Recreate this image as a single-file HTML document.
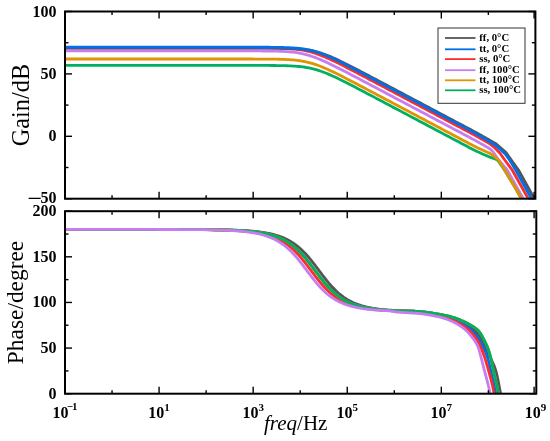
<!DOCTYPE html>
<html><head><meta charset="utf-8"><style>
html,body{margin:0;padding:0;background:#fff;}
body{width:550px;height:441px;overflow:hidden;}
svg{display:block;}
.ser{font-family:"Liberation Serif",serif;}
</style></head><body>
<svg width="550" height="441" viewBox="0 0 550 441">
<defs><clipPath id="cg"><rect x="65.00" y="11.50" width="470.40" height="187.20"/></clipPath>
<clipPath id="cp"><rect x="65.00" y="211.20" width="470.40" height="182.50"/></clipPath></defs>
<rect width="550" height="441" fill="#fff"/>
<g clip-path="url(#cg)" fill="none" stroke-width="2.80" stroke-linejoin="round" stroke-linecap="round">
<polyline stroke="#ff2a2a" points="65.00,48.10 67.00,48.10 69.00,48.10 71.00,48.10 73.00,48.10 75.00,48.10 77.00,48.10 79.00,48.10 81.00,48.10 83.00,48.10 85.00,48.10 87.00,48.10 89.00,48.10 91.00,48.10 93.00,48.10 95.00,48.10 97.00,48.10 99.00,48.10 101.00,48.10 103.00,48.10 105.00,48.10 107.00,48.10 109.00,48.10 111.00,48.10 113.00,48.10 115.00,48.10 117.00,48.10 119.00,48.10 121.00,48.10 123.00,48.10 125.00,48.10 127.00,48.10 129.00,48.10 131.00,48.10 133.00,48.10 135.00,48.10 137.00,48.10 139.00,48.10 141.00,48.10 143.00,48.10 145.00,48.10 147.00,48.10 149.00,48.10 151.00,48.10 153.00,48.10 155.00,48.10 157.00,48.10 159.00,48.10 161.00,48.10 163.00,48.10 165.00,48.10 167.00,48.10 169.00,48.10 171.00,48.10 173.00,48.10 175.00,48.10 177.00,48.10 179.00,48.10 181.00,48.10 183.00,48.10 185.00,48.10 187.00,48.10 189.00,48.10 191.00,48.10 193.00,48.10 195.00,48.10 197.00,48.10 199.00,48.10 201.00,48.10 203.00,48.10 205.00,48.10 207.00,48.10 209.00,48.10 211.00,48.10 213.00,48.10 215.00,48.10 217.00,48.10 219.00,48.10 221.00,48.10 223.00,48.10 225.00,48.10 227.00,48.10 229.00,48.10 231.00,48.10 233.00,48.10 235.00,48.10 237.00,48.10 239.00,48.10 241.00,48.11 243.00,48.11 245.00,48.11 247.00,48.11 249.00,48.11 251.00,48.12 253.00,48.12 255.00,48.12 257.00,48.13 259.00,48.14 261.00,48.14 263.00,48.15 265.00,48.16 267.00,48.18 269.00,48.19 271.00,48.21 273.00,48.24 275.00,48.27 277.00,48.30 279.00,48.34 281.00,48.40 283.00,48.46 285.00,48.53 287.00,48.62 289.00,48.73 291.00,48.85 293.00,49.01 295.00,49.18 297.00,49.39 299.00,49.63 301.00,49.91 303.00,50.24 305.00,50.61 307.00,51.02 309.00,51.49 311.00,52.01 313.00,52.58 315.00,53.21 317.00,53.88 319.00,54.59 321.00,55.36 323.00,56.16 325.00,57.00 327.00,57.87 329.00,58.77 331.00,59.69 333.00,60.63 335.00,61.60 337.00,62.58 339.00,63.57 341.00,64.57 343.00,65.59 345.00,66.61 347.00,67.64 349.00,68.67 351.00,69.71 353.00,70.75 355.00,71.80 357.00,72.84 359.00,73.89 361.00,74.94 363.00,76.00 365.00,77.05 367.00,78.11 369.00,79.16 371.00,80.22 373.00,81.27 375.00,82.33 377.00,83.39 379.00,84.45 381.00,85.51 383.00,86.57 385.00,87.62 387.00,88.68 389.00,89.74 391.00,90.80 393.00,91.86 395.00,92.92 397.00,93.98 399.00,95.04 401.00,96.10 403.00,97.16 405.00,98.22 407.00,99.28 409.00,100.33 411.00,101.39 413.00,102.45 415.00,103.51 417.00,104.57 419.00,105.63 421.00,106.69 423.00,107.75 425.00,108.81 427.00,109.87 429.00,110.93 431.00,111.99 433.00,113.05 435.00,114.11 437.00,115.17 439.00,116.23 441.00,117.29 443.00,118.35 445.00,119.41 447.00,120.47 449.00,121.53 451.00,122.58 453.00,123.64 455.00,124.70 457.00,125.76 459.00,126.82 461.00,127.88 463.00,128.94 465.00,130.00 467.00,131.06 469.00,132.12 471.00,133.19 473.00,134.27 475.00,135.37 477.00,136.47 479.00,137.58 481.00,138.71 483.00,139.84 485.00,140.99 487.00,142.14 489.00,143.31 490.00,143.90 494.00,147.10 500.00,153.20 504.80,160.00 512.20,170.00 523.40,190.00 530.50,202.70"/>
<polyline stroke="#555555" points="65.00,48.10 67.00,48.10 69.00,48.10 71.00,48.10 73.00,48.10 75.00,48.10 77.00,48.10 79.00,48.10 81.00,48.10 83.00,48.10 85.00,48.10 87.00,48.10 89.00,48.10 91.00,48.10 93.00,48.10 95.00,48.10 97.00,48.10 99.00,48.10 101.00,48.10 103.00,48.10 105.00,48.10 107.00,48.10 109.00,48.10 111.00,48.10 113.00,48.10 115.00,48.10 117.00,48.10 119.00,48.10 121.00,48.10 123.00,48.10 125.00,48.10 127.00,48.10 129.00,48.10 131.00,48.10 133.00,48.10 135.00,48.10 137.00,48.10 139.00,48.10 141.00,48.10 143.00,48.10 145.00,48.10 147.00,48.10 149.00,48.10 151.00,48.10 153.00,48.10 155.00,48.10 157.00,48.10 159.00,48.10 161.00,48.10 163.00,48.10 165.00,48.10 167.00,48.10 169.00,48.10 171.00,48.10 173.00,48.10 175.00,48.10 177.00,48.10 179.00,48.10 181.00,48.10 183.00,48.10 185.00,48.10 187.00,48.10 189.00,48.10 191.00,48.10 193.00,48.10 195.00,48.10 197.00,48.10 199.00,48.10 201.00,48.10 203.00,48.10 205.00,48.10 207.00,48.10 209.00,48.10 211.00,48.10 213.00,48.10 215.00,48.10 217.00,48.10 219.00,48.10 221.00,48.10 223.00,48.10 225.00,48.10 227.00,48.10 229.00,48.10 231.00,48.10 233.00,48.10 235.00,48.10 237.00,48.10 239.00,48.10 241.00,48.10 243.00,48.10 245.00,48.10 247.00,48.11 249.00,48.11 251.00,48.11 253.00,48.11 255.00,48.11 257.00,48.12 259.00,48.12 261.00,48.12 263.00,48.13 265.00,48.13 267.00,48.14 269.00,48.15 271.00,48.16 273.00,48.17 275.00,48.19 277.00,48.21 279.00,48.23 281.00,48.26 283.00,48.30 285.00,48.34 287.00,48.39 289.00,48.45 291.00,48.52 293.00,48.61 295.00,48.71 297.00,48.83 299.00,48.98 301.00,49.15 303.00,49.36 305.00,49.59 307.00,49.87 309.00,50.19 311.00,50.55 313.00,50.96 315.00,51.42 317.00,51.93 319.00,52.49 321.00,53.11 323.00,53.77 325.00,54.48 327.00,55.24 329.00,56.04 331.00,56.87 333.00,57.73 335.00,58.63 337.00,59.55 339.00,60.49 341.00,61.45 343.00,62.43 345.00,63.42 347.00,64.42 349.00,65.44 351.00,66.46 353.00,67.48 355.00,68.52 357.00,69.55 359.00,70.59 361.00,71.64 363.00,72.69 365.00,73.74 367.00,74.79 369.00,75.84 371.00,76.89 373.00,77.95 375.00,79.00 377.00,80.06 379.00,81.12 381.00,82.17 383.00,83.23 385.00,84.29 387.00,85.35 389.00,86.41 391.00,87.47 393.00,88.52 395.00,89.58 397.00,90.64 399.00,91.70 401.00,92.76 403.00,93.82 405.00,94.88 407.00,95.94 409.00,97.00 411.00,98.06 413.00,99.12 415.00,100.18 417.00,101.24 419.00,102.29 421.00,103.35 423.00,104.41 425.00,105.47 427.00,106.53 429.00,107.59 431.00,108.65 433.00,109.71 435.00,110.77 437.00,111.83 439.00,112.89 441.00,113.95 443.00,115.01 445.00,116.07 447.00,117.13 449.00,118.19 451.00,119.25 453.00,120.31 455.00,121.37 457.00,122.43 459.00,123.49 461.00,124.54 463.00,125.60 465.00,126.66 467.00,127.72 469.00,128.78 471.00,129.85 473.00,130.93 475.00,132.01 477.00,133.10 479.00,134.20 481.00,135.31 483.00,136.43 485.00,137.55 487.00,138.69 489.00,139.83 490.00,140.40 496.30,144.00 506.00,152.60 512.00,161.00 518.50,170.00 529.50,190.00 536.50,202.70"/>
<polyline stroke="#0070e8" points="65.00,47.20 67.00,47.20 69.00,47.20 71.00,47.20 73.00,47.20 75.00,47.20 77.00,47.20 79.00,47.20 81.00,47.20 83.00,47.20 85.00,47.20 87.00,47.20 89.00,47.20 91.00,47.20 93.00,47.20 95.00,47.20 97.00,47.20 99.00,47.20 101.00,47.20 103.00,47.20 105.00,47.20 107.00,47.20 109.00,47.20 111.00,47.20 113.00,47.20 115.00,47.20 117.00,47.20 119.00,47.20 121.00,47.20 123.00,47.20 125.00,47.20 127.00,47.20 129.00,47.20 131.00,47.20 133.00,47.20 135.00,47.20 137.00,47.20 139.00,47.20 141.00,47.20 143.00,47.20 145.00,47.20 147.00,47.20 149.00,47.20 151.00,47.20 153.00,47.20 155.00,47.20 157.00,47.20 159.00,47.20 161.00,47.20 163.00,47.20 165.00,47.20 167.00,47.20 169.00,47.20 171.00,47.20 173.00,47.20 175.00,47.20 177.00,47.20 179.00,47.20 181.00,47.20 183.00,47.20 185.00,47.20 187.00,47.20 189.00,47.20 191.00,47.20 193.00,47.20 195.00,47.20 197.00,47.20 199.00,47.20 201.00,47.20 203.00,47.20 205.00,47.20 207.00,47.20 209.00,47.20 211.00,47.20 213.00,47.20 215.00,47.20 217.00,47.20 219.00,47.20 221.00,47.20 223.00,47.20 225.00,47.20 227.00,47.20 229.00,47.20 231.00,47.20 233.00,47.20 235.00,47.20 237.00,47.20 239.00,47.20 241.00,47.20 243.00,47.21 245.00,47.21 247.00,47.21 249.00,47.21 251.00,47.21 253.00,47.22 255.00,47.22 257.00,47.22 259.00,47.23 261.00,47.23 263.00,47.24 265.00,47.25 267.00,47.26 269.00,47.27 271.00,47.29 273.00,47.31 275.00,47.33 277.00,47.36 279.00,47.39 281.00,47.43 283.00,47.48 285.00,47.54 287.00,47.60 289.00,47.69 291.00,47.79 293.00,47.91 295.00,48.05 297.00,48.22 299.00,48.41 301.00,48.64 303.00,48.91 305.00,49.22 307.00,49.57 309.00,49.97 311.00,50.42 313.00,50.92 315.00,51.48 317.00,52.08 319.00,52.74 321.00,53.44 323.00,54.19 325.00,54.97 327.00,55.80 329.00,56.66 331.00,57.55 333.00,58.46 335.00,59.40 337.00,60.36 339.00,61.33 341.00,62.32 343.00,63.32 345.00,64.33 347.00,65.35 349.00,66.38 351.00,67.41 353.00,68.45 355.00,69.49 357.00,70.53 359.00,71.58 361.00,72.63 363.00,73.68 365.00,74.73 367.00,75.78 369.00,76.84 371.00,77.89 373.00,78.95 375.00,80.00 377.00,81.06 379.00,82.12 381.00,83.18 383.00,84.24 385.00,85.29 387.00,86.35 389.00,87.41 391.00,88.47 393.00,89.53 395.00,90.59 397.00,91.65 399.00,92.71 401.00,93.77 403.00,94.83 405.00,95.89 407.00,96.95 409.00,98.00 411.00,99.06 413.00,100.12 415.00,101.18 417.00,102.24 419.00,103.30 421.00,104.36 423.00,105.42 425.00,106.48 427.00,107.54 429.00,108.60 431.00,109.66 433.00,110.72 435.00,111.78 437.00,112.84 439.00,113.90 441.00,114.96 443.00,116.02 445.00,117.08 447.00,118.14 449.00,119.19 451.00,120.25 453.00,121.31 455.00,122.37 457.00,123.43 459.00,124.49 461.00,125.55 463.00,126.61 465.00,127.67 467.00,128.73 469.00,129.79 471.00,130.87 473.00,131.96 475.00,133.08 477.00,134.21 479.00,135.36 481.00,136.53 483.00,137.71 485.00,138.91 487.00,140.13 489.00,141.37 490.00,142.00 495.50,145.30 505.00,153.60 509.60,160.00 515.70,170.00 526.70,190.00 533.70,202.70"/>
<polyline stroke="#c77cf0" points="65.00,50.90 67.00,50.90 69.00,50.90 71.00,50.90 73.00,50.90 75.00,50.90 77.00,50.90 79.00,50.90 81.00,50.90 83.00,50.90 85.00,50.90 87.00,50.90 89.00,50.90 91.00,50.90 93.00,50.90 95.00,50.90 97.00,50.90 99.00,50.90 101.00,50.90 103.00,50.90 105.00,50.90 107.00,50.90 109.00,50.90 111.00,50.90 113.00,50.90 115.00,50.90 117.00,50.90 119.00,50.90 121.00,50.90 123.00,50.90 125.00,50.90 127.00,50.90 129.00,50.90 131.00,50.90 133.00,50.90 135.00,50.90 137.00,50.90 139.00,50.90 141.00,50.90 143.00,50.90 145.00,50.90 147.00,50.90 149.00,50.90 151.00,50.90 153.00,50.90 155.00,50.90 157.00,50.90 159.00,50.90 161.00,50.90 163.00,50.90 165.00,50.90 167.00,50.90 169.00,50.90 171.00,50.90 173.00,50.90 175.00,50.90 177.00,50.90 179.00,50.90 181.00,50.90 183.00,50.90 185.00,50.90 187.00,50.90 189.00,50.90 191.00,50.90 193.00,50.90 195.00,50.90 197.00,50.90 199.00,50.90 201.00,50.90 203.00,50.90 205.00,50.90 207.00,50.90 209.00,50.90 211.00,50.90 213.00,50.90 215.00,50.90 217.00,50.90 219.00,50.90 221.00,50.90 223.00,50.90 225.00,50.90 227.00,50.90 229.00,50.90 231.00,50.90 233.00,50.90 235.00,50.91 237.00,50.91 239.00,50.91 241.00,50.91 243.00,50.91 245.00,50.91 247.00,50.92 249.00,50.92 251.00,50.92 253.00,50.93 255.00,50.94 257.00,50.94 259.00,50.95 261.00,50.96 263.00,50.98 265.00,50.99 267.00,51.01 269.00,51.04 271.00,51.07 273.00,51.10 275.00,51.15 277.00,51.20 279.00,51.26 281.00,51.34 283.00,51.43 285.00,51.53 287.00,51.66 289.00,51.81 291.00,51.99 293.00,52.20 295.00,52.45 297.00,52.73 299.00,53.06 301.00,53.43 303.00,53.85 305.00,54.32 307.00,54.84 309.00,55.41 311.00,56.04 313.00,56.71 315.00,57.43 317.00,58.20 319.00,59.00 321.00,59.84 323.00,60.71 325.00,61.61 327.00,62.54 329.00,63.48 331.00,64.45 333.00,65.43 335.00,66.42 337.00,67.43 339.00,68.44 341.00,69.46 343.00,70.49 345.00,71.52 347.00,72.56 349.00,73.60 351.00,74.65 353.00,75.70 355.00,76.75 357.00,77.80 359.00,78.85 361.00,79.90 363.00,80.96 365.00,82.01 367.00,83.07 369.00,84.13 371.00,85.19 373.00,86.24 375.00,87.30 377.00,88.36 379.00,89.42 381.00,90.48 383.00,91.54 385.00,92.59 387.00,93.65 389.00,94.71 391.00,95.77 393.00,96.83 395.00,97.89 397.00,98.95 399.00,100.01 401.00,101.07 403.00,102.13 405.00,103.19 407.00,104.25 409.00,105.31 411.00,106.37 413.00,107.43 415.00,108.49 417.00,109.54 419.00,110.60 421.00,111.66 423.00,112.72 425.00,113.78 427.00,114.84 429.00,115.90 431.00,116.96 433.00,118.02 435.00,119.08 437.00,120.14 439.00,121.20 441.00,122.26 443.00,123.32 445.00,124.38 447.00,125.44 449.00,126.50 451.00,127.56 453.00,128.62 455.00,129.68 457.00,130.74 459.00,131.79 461.00,132.85 463.00,133.91 465.00,134.97 467.00,136.03 469.00,137.09 471.00,138.16 473.00,139.25 475.00,140.34 477.00,141.44 479.00,142.56 481.00,143.69 483.00,144.83 485.00,145.98 487.00,147.14 489.00,148.31 490.00,148.90 493.00,151.70 498.70,160.00 507.20,170.00 518.40,190.00 525.50,202.70"/>
<polyline stroke="#00b060" points="65.00,65.40 67.00,65.40 69.00,65.40 71.00,65.40 73.00,65.40 75.00,65.40 77.00,65.40 79.00,65.40 81.00,65.40 83.00,65.40 85.00,65.40 87.00,65.40 89.00,65.40 91.00,65.40 93.00,65.40 95.00,65.40 97.00,65.40 99.00,65.40 101.00,65.40 103.00,65.40 105.00,65.40 107.00,65.40 109.00,65.40 111.00,65.40 113.00,65.40 115.00,65.40 117.00,65.40 119.00,65.40 121.00,65.40 123.00,65.40 125.00,65.40 127.00,65.40 129.00,65.40 131.00,65.40 133.00,65.40 135.00,65.40 137.00,65.40 139.00,65.40 141.00,65.40 143.00,65.40 145.00,65.40 147.00,65.40 149.00,65.40 151.00,65.40 153.00,65.40 155.00,65.40 157.00,65.40 159.00,65.40 161.00,65.40 163.00,65.40 165.00,65.40 167.00,65.40 169.00,65.40 171.00,65.40 173.00,65.40 175.00,65.40 177.00,65.40 179.00,65.40 181.00,65.40 183.00,65.40 185.00,65.40 187.00,65.40 189.00,65.40 191.00,65.40 193.00,65.40 195.00,65.40 197.00,65.40 199.00,65.40 201.00,65.40 203.00,65.40 205.00,65.40 207.00,65.40 209.00,65.40 211.00,65.40 213.00,65.40 215.00,65.40 217.00,65.40 219.00,65.40 221.00,65.40 223.00,65.40 225.00,65.40 227.00,65.40 229.00,65.40 231.00,65.40 233.00,65.40 235.00,65.40 237.00,65.40 239.00,65.40 241.00,65.40 243.00,65.41 245.00,65.41 247.00,65.41 249.00,65.41 251.00,65.41 253.00,65.41 255.00,65.42 257.00,65.42 259.00,65.42 261.00,65.43 263.00,65.44 265.00,65.44 267.00,65.45 269.00,65.46 271.00,65.48 273.00,65.50 275.00,65.52 277.00,65.54 279.00,65.57 281.00,65.61 283.00,65.65 285.00,65.70 287.00,65.76 289.00,65.84 291.00,65.93 293.00,66.04 295.00,66.17 297.00,66.32 299.00,66.50 301.00,66.71 303.00,66.96 305.00,67.25 307.00,67.57 309.00,67.95 311.00,68.37 313.00,68.84 315.00,69.37 317.00,69.94 319.00,70.57 321.00,71.25 323.00,71.97 325.00,72.73 327.00,73.54 329.00,74.38 331.00,75.26 333.00,76.16 335.00,77.08 337.00,78.03 339.00,79.00 341.00,79.98 343.00,80.97 345.00,81.98 347.00,82.99 349.00,84.01 351.00,85.04 353.00,86.07 355.00,87.11 357.00,88.16 359.00,89.20 361.00,90.25 363.00,91.30 365.00,92.35 367.00,93.40 369.00,94.46 371.00,95.51 373.00,96.57 375.00,97.62 377.00,98.68 379.00,99.74 381.00,100.80 383.00,101.85 385.00,102.91 387.00,103.97 389.00,105.03 391.00,106.09 393.00,107.15 395.00,108.21 397.00,109.27 399.00,110.33 401.00,111.38 403.00,112.44 405.00,113.50 407.00,114.56 409.00,115.62 411.00,116.68 413.00,117.74 415.00,118.80 417.00,119.86 419.00,120.92 421.00,121.98 423.00,123.04 425.00,124.10 427.00,125.16 429.00,126.22 431.00,127.28 433.00,128.34 435.00,129.40 437.00,130.45 439.00,131.51 441.00,132.57 443.00,133.63 445.00,134.69 447.00,135.75 449.00,136.81 451.00,137.87 453.00,138.93 455.00,139.99 457.00,141.05 459.00,142.11 461.00,143.17 463.00,144.23 465.00,145.29 467.00,146.35 469.00,147.40 471.00,148.44 473.00,149.45 475.00,150.44 477.00,151.41 479.00,152.35 481.00,153.26 483.00,154.16 485.00,155.03 487.00,155.87 489.00,156.70 490.00,157.10 495.00,158.90 498.00,160.60 504.60,170.20 516.50,190.00 523.50,202.70"/>
<polyline stroke="#e09400" points="65.00,59.00 67.00,59.00 69.00,59.00 71.00,59.00 73.00,59.00 75.00,59.00 77.00,59.00 79.00,59.00 81.00,59.00 83.00,59.00 85.00,59.00 87.00,59.00 89.00,59.00 91.00,59.00 93.00,59.00 95.00,59.00 97.00,59.00 99.00,59.00 101.00,59.00 103.00,59.00 105.00,59.00 107.00,59.00 109.00,59.00 111.00,59.00 113.00,59.00 115.00,59.00 117.00,59.00 119.00,59.00 121.00,59.00 123.00,59.00 125.00,59.00 127.00,59.00 129.00,59.00 131.00,59.00 133.00,59.00 135.00,59.00 137.00,59.00 139.00,59.00 141.00,59.00 143.00,59.00 145.00,59.00 147.00,59.00 149.00,59.00 151.00,59.00 153.00,59.00 155.00,59.00 157.00,59.00 159.00,59.00 161.00,59.00 163.00,59.00 165.00,59.00 167.00,59.00 169.00,59.00 171.00,59.00 173.00,59.00 175.00,59.00 177.00,59.00 179.00,59.00 181.00,59.00 183.00,59.00 185.00,59.00 187.00,59.00 189.00,59.00 191.00,59.00 193.00,59.00 195.00,59.00 197.00,59.00 199.00,59.00 201.00,59.00 203.00,59.00 205.00,59.00 207.00,59.00 209.00,59.00 211.00,59.00 213.00,59.00 215.00,59.00 217.00,59.00 219.00,59.00 221.00,59.00 223.00,59.00 225.00,59.00 227.00,59.00 229.00,59.00 231.00,59.00 233.00,59.00 235.00,59.00 237.00,59.00 239.00,59.01 241.00,59.01 243.00,59.01 245.00,59.01 247.00,59.01 249.00,59.01 251.00,59.02 253.00,59.02 255.00,59.03 257.00,59.03 259.00,59.04 261.00,59.05 263.00,59.06 265.00,59.07 267.00,59.08 269.00,59.10 271.00,59.12 273.00,59.15 275.00,59.18 277.00,59.22 279.00,59.26 281.00,59.32 283.00,59.38 285.00,59.46 287.00,59.56 289.00,59.67 291.00,59.80 293.00,59.96 295.00,60.15 297.00,60.37 299.00,60.63 301.00,60.92 303.00,61.26 305.00,61.65 307.00,62.08 309.00,62.57 311.00,63.11 313.00,63.70 315.00,64.33 317.00,65.02 319.00,65.76 321.00,66.53 323.00,67.35 325.00,68.20 327.00,69.08 329.00,69.99 331.00,70.92 333.00,71.87 335.00,72.84 337.00,73.82 339.00,74.82 341.00,75.83 343.00,76.84 345.00,77.87 347.00,78.90 349.00,79.93 351.00,80.97 353.00,82.02 355.00,83.06 357.00,84.11 359.00,85.16 361.00,86.21 363.00,87.27 365.00,88.32 367.00,89.38 369.00,90.43 371.00,91.49 373.00,92.54 375.00,93.60 377.00,94.66 379.00,95.72 381.00,96.78 383.00,97.84 385.00,98.89 387.00,99.95 389.00,101.01 391.00,102.07 393.00,103.13 395.00,104.19 397.00,105.25 399.00,106.31 401.00,107.37 403.00,108.43 405.00,109.49 407.00,110.55 409.00,111.61 411.00,112.67 413.00,113.72 415.00,114.78 417.00,115.84 419.00,116.90 421.00,117.96 423.00,119.02 425.00,120.08 427.00,121.14 429.00,122.20 431.00,123.26 433.00,124.32 435.00,125.38 437.00,126.44 439.00,127.50 441.00,128.56 443.00,129.62 445.00,130.68 447.00,131.74 449.00,132.80 451.00,133.86 453.00,134.91 455.00,135.97 457.00,137.03 459.00,138.09 461.00,139.15 463.00,140.21 465.00,141.27 467.00,142.33 469.00,143.39 471.00,144.43 473.00,145.45 475.00,146.46 477.00,147.44 479.00,148.41 481.00,149.36 483.00,150.29 485.00,151.20 487.00,152.09 489.00,152.97 490.00,153.40 495.00,156.90 498.30,160.00 504.60,170.00 516.50,190.00 523.50,202.70"/>
</g>
<g clip-path="url(#cp)" fill="none" stroke-width="2.80" stroke-linejoin="round" stroke-linecap="round">
<polyline stroke="#555555" points="65.00,229.45 66.00,229.45 67.00,229.45 68.00,229.45 69.00,229.45 70.00,229.45 71.00,229.45 72.00,229.45 73.00,229.45 74.00,229.45 75.00,229.45 76.00,229.45 77.00,229.45 78.00,229.45 79.00,229.45 80.00,229.45 81.00,229.45 82.00,229.45 83.00,229.45 84.00,229.45 85.00,229.45 86.00,229.45 87.00,229.45 88.00,229.45 89.00,229.45 90.00,229.45 91.00,229.45 92.00,229.45 93.00,229.45 94.00,229.45 95.00,229.45 96.00,229.45 97.00,229.45 98.00,229.45 99.00,229.45 100.00,229.45 101.00,229.45 102.00,229.45 103.00,229.45 104.00,229.45 105.00,229.45 106.00,229.45 107.00,229.45 108.00,229.45 109.00,229.45 110.00,229.45 111.00,229.45 112.00,229.45 113.00,229.45 114.00,229.45 115.00,229.45 116.00,229.45 117.00,229.45 118.00,229.45 119.00,229.45 120.00,229.45 121.00,229.45 122.00,229.45 123.00,229.45 124.00,229.45 125.00,229.45 126.00,229.45 127.00,229.45 128.00,229.45 129.00,229.45 130.00,229.45 131.00,229.45 132.00,229.45 133.00,229.45 134.00,229.45 135.00,229.45 136.00,229.45 137.00,229.45 138.00,229.45 139.00,229.46 140.00,229.46 141.00,229.46 142.00,229.46 143.00,229.46 144.00,229.46 145.00,229.46 146.00,229.46 147.00,229.46 148.00,229.46 149.00,229.46 150.00,229.46 151.00,229.46 152.00,229.46 153.00,229.46 154.00,229.46 155.00,229.46 156.00,229.46 157.00,229.46 158.00,229.46 159.00,229.46 160.00,229.47 161.00,229.47 162.00,229.47 163.00,229.47 164.00,229.47 165.00,229.47 166.00,229.47 167.00,229.47 168.00,229.47 169.00,229.47 170.00,229.48 171.00,229.48 172.00,229.48 173.00,229.48 174.00,229.48 175.00,229.48 176.00,229.48 177.00,229.49 178.00,229.49 179.00,229.49 180.00,229.49 181.00,229.49 182.00,229.50 183.00,229.50 184.00,229.50 185.00,229.51 186.00,229.51 187.00,229.51 188.00,229.51 189.00,229.52 190.00,229.52 191.00,229.52 192.00,229.53 193.00,229.53 194.00,229.54 195.00,229.54 196.00,229.55 197.00,229.55 198.00,229.56 199.00,229.56 200.00,229.57 201.00,229.57 202.00,229.58 203.00,229.59 204.00,229.60 205.00,229.60 206.00,229.61 207.00,229.62 208.00,229.63 209.00,229.64 210.00,229.65 211.00,229.66 212.00,229.67 213.00,229.68 214.00,229.69 215.00,229.71 216.00,229.72 217.00,229.73 218.00,229.75 219.00,229.76 220.00,229.78 221.00,229.80 222.00,229.82 223.00,229.83 224.00,229.85 225.00,229.88 226.00,229.90 227.00,229.92 228.00,229.95 229.00,229.97 230.00,230.00 231.00,230.03 232.00,230.06 233.00,230.09 234.00,230.13 235.00,230.16 236.00,230.20 237.00,230.24 238.00,230.28 239.00,230.32 240.00,230.37 241.00,230.42 242.00,230.47 243.00,230.52 244.00,230.58 245.00,230.64 246.00,230.70 247.00,230.76 248.00,230.83 249.00,230.90 250.00,230.98 251.00,231.06 252.00,231.15 253.00,231.23 254.00,231.33 255.00,231.43 256.00,231.53 257.00,231.64 258.00,231.75 259.00,231.88 260.00,232.00 261.00,232.14 262.00,232.28 263.00,232.42 264.00,232.58 265.00,232.74 266.00,232.92 267.00,233.10 268.00,233.29 269.00,233.49 270.00,233.70 271.00,233.92 272.00,234.16 273.00,234.40 274.00,234.66 275.00,234.93 276.00,235.22 277.00,235.52 278.00,235.83 279.00,236.17 280.00,236.51 281.00,236.88 282.00,237.26 283.00,237.67 284.00,238.09 285.00,238.54 286.00,239.00 287.00,239.49 288.00,240.01 289.00,240.54 290.00,241.11 291.00,241.70 292.00,242.32 293.00,242.96 294.00,243.64 295.00,244.35 296.00,245.08 297.00,245.85 298.00,246.65 299.00,247.49 300.00,248.36 301.00,249.26 302.00,250.19 303.00,251.17 304.00,252.17 305.00,253.21 306.00,254.28 307.00,255.38 308.00,256.52 309.00,257.68 310.00,258.88 311.00,260.10 312.00,261.35 313.00,262.61 314.00,263.89 315.00,265.20 316.00,266.52 317.00,267.84 318.00,269.17 319.00,270.51 320.00,271.85 321.00,273.18 322.00,274.51 323.00,275.83 324.00,277.13 325.00,278.41 326.00,279.68 327.00,280.93 328.00,282.15 329.00,283.34 330.00,284.50 331.00,285.64 332.00,286.75 333.00,287.82 334.00,288.85 335.00,289.86 336.00,290.83 337.00,291.77 338.00,292.67 339.00,293.54 340.00,294.37 341.00,295.17 342.00,295.94 343.00,296.68 344.00,297.39 345.00,298.06 346.00,298.71 347.00,299.33 348.00,299.92 349.00,300.48 350.00,301.02 351.00,301.53 352.00,302.02 353.00,302.49 354.00,302.93 355.00,303.36 356.00,303.76 357.00,304.15 358.00,304.51 359.00,304.86 360.00,305.19 361.00,305.51 362.00,305.81 363.00,306.09 364.00,306.36 365.00,306.62 366.00,306.87 367.00,307.10 368.00,307.32 369.00,307.54 370.00,307.74 371.00,307.93 372.00,308.11 373.00,308.28 374.00,308.44 375.00,308.60 376.00,308.75 377.00,308.89 378.00,309.02 379.00,309.15 380.00,309.27 381.00,309.39 382.00,309.49 383.00,309.60 384.00,309.70 385.00,309.79 386.00,309.88 387.00,309.96 388.00,310.04 389.00,310.12 390.00,310.19 391.00,310.26 392.00,310.33 393.00,310.39 394.00,310.45 395.00,310.50 396.00,310.56 397.00,310.61 398.00,310.66 399.00,310.70 400.00,310.75 401.00,310.79 402.00,310.83 403.00,310.86 404.00,310.90 405.00,310.93 406.00,310.97 407.00,311.00 408.00,311.02 409.00,311.05 410.00,311.08 411.00,311.10 412.00,311.12 413.00,311.15 414.00,311.19 415.00,311.23 416.00,311.29 417.00,311.35 418.00,311.42 419.00,311.50 420.00,311.58 421.00,311.66 422.00,311.76 423.00,311.86 424.00,311.97 425.00,312.09 426.00,312.21 427.00,312.35 428.00,312.48 429.00,312.63 430.00,312.78 431.00,312.94 432.00,313.11 433.00,313.28 434.00,313.45 435.00,313.63 436.00,313.82 437.00,314.01 438.00,314.20 439.00,314.40 440.00,314.60 441.00,314.81 442.00,315.05 443.00,315.29 444.00,315.56 445.00,315.84 446.00,316.13 447.00,316.43 448.00,316.75 449.00,317.07 450.00,317.39 451.00,317.73 452.00,318.06 453.00,318.40 454.00,318.74 455.00,319.09 456.00,319.44 457.00,319.80 458.00,320.17 459.00,320.55 460.00,320.95 461.00,321.36 462.00,321.79 463.00,322.25 464.00,322.73 465.00,323.24 466.00,323.78 467.00,324.38 468.00,325.05 469.00,325.77 470.00,326.54 471.00,327.34 472.00,328.17 473.00,329.03 474.00,329.93 475.00,330.88 476.00,331.90 477.00,332.99 478.00,334.16 479.00,335.43 480.00,336.84 481.00,338.37 482.00,340.01 483.00,341.75 484.00,343.57 485.00,345.48 486.00,347.59 487.00,349.87 488.00,352.24 489.00,354.61 490.00,356.90 491.00,359.03 492.00,361.09 493.00,363.22 494.00,365.55 495.00,368.20 496.00,371.35 497.00,375.38 498.00,380.12 499.00,385.24 500.00,390.46 501.00,395.58 501.40,397.70"/>
<polyline stroke="#0070e8" points="65.00,229.45 66.00,229.45 67.00,229.45 68.00,229.45 69.00,229.45 70.00,229.45 71.00,229.45 72.00,229.45 73.00,229.45 74.00,229.45 75.00,229.45 76.00,229.45 77.00,229.45 78.00,229.45 79.00,229.45 80.00,229.45 81.00,229.45 82.00,229.45 83.00,229.45 84.00,229.45 85.00,229.45 86.00,229.45 87.00,229.45 88.00,229.45 89.00,229.45 90.00,229.45 91.00,229.45 92.00,229.45 93.00,229.45 94.00,229.45 95.00,229.45 96.00,229.45 97.00,229.45 98.00,229.45 99.00,229.45 100.00,229.45 101.00,229.45 102.00,229.45 103.00,229.45 104.00,229.45 105.00,229.45 106.00,229.45 107.00,229.45 108.00,229.45 109.00,229.45 110.00,229.45 111.00,229.45 112.00,229.45 113.00,229.45 114.00,229.45 115.00,229.45 116.00,229.45 117.00,229.45 118.00,229.45 119.00,229.45 120.00,229.45 121.00,229.45 122.00,229.45 123.00,229.45 124.00,229.45 125.00,229.45 126.00,229.45 127.00,229.45 128.00,229.45 129.00,229.45 130.00,229.45 131.00,229.45 132.00,229.45 133.00,229.45 134.00,229.45 135.00,229.46 136.00,229.46 137.00,229.46 138.00,229.46 139.00,229.46 140.00,229.46 141.00,229.46 142.00,229.46 143.00,229.46 144.00,229.46 145.00,229.46 146.00,229.46 147.00,229.46 148.00,229.46 149.00,229.46 150.00,229.46 151.00,229.46 152.00,229.46 153.00,229.46 154.00,229.46 155.00,229.46 156.00,229.47 157.00,229.47 158.00,229.47 159.00,229.47 160.00,229.47 161.00,229.47 162.00,229.47 163.00,229.47 164.00,229.47 165.00,229.47 166.00,229.48 167.00,229.48 168.00,229.48 169.00,229.48 170.00,229.48 171.00,229.48 172.00,229.48 173.00,229.49 174.00,229.49 175.00,229.49 176.00,229.49 177.00,229.49 178.00,229.50 179.00,229.50 180.00,229.50 181.00,229.51 182.00,229.51 183.00,229.51 184.00,229.51 185.00,229.52 186.00,229.52 187.00,229.52 188.00,229.53 189.00,229.53 190.00,229.54 191.00,229.54 192.00,229.55 193.00,229.55 194.00,229.56 195.00,229.56 196.00,229.57 197.00,229.57 198.00,229.58 199.00,229.59 200.00,229.60 201.00,229.60 202.00,229.61 203.00,229.62 204.00,229.63 205.00,229.64 206.00,229.65 207.00,229.66 208.00,229.67 209.00,229.68 210.00,229.69 211.00,229.71 212.00,229.72 213.00,229.73 214.00,229.75 215.00,229.76 216.00,229.78 217.00,229.80 218.00,229.82 219.00,229.83 220.00,229.85 221.00,229.88 222.00,229.90 223.00,229.92 224.00,229.95 225.00,229.97 226.00,230.00 227.00,230.03 228.00,230.06 229.00,230.09 230.00,230.13 231.00,230.16 232.00,230.20 233.00,230.24 234.00,230.28 235.00,230.32 236.00,230.37 237.00,230.42 238.00,230.47 239.00,230.52 240.00,230.58 241.00,230.64 242.00,230.70 243.00,230.76 244.00,230.83 245.00,230.90 246.00,230.98 247.00,231.06 248.00,231.15 249.00,231.23 250.00,231.33 251.00,231.43 252.00,231.53 253.00,231.64 254.00,231.75 255.00,231.88 256.00,232.00 257.00,232.14 258.00,232.28 259.00,232.42 260.00,232.58 261.00,232.74 262.00,232.92 263.00,233.10 264.00,233.29 265.00,233.49 266.00,233.70 267.00,233.92 268.00,234.16 269.00,234.40 270.00,234.66 271.00,234.93 272.00,235.22 273.00,235.52 274.00,235.83 275.00,236.17 276.00,236.51 277.00,236.88 278.00,237.26 279.00,237.67 280.00,238.09 281.00,238.54 282.00,239.00 283.00,239.49 284.00,240.01 285.00,240.54 286.00,241.11 287.00,241.70 288.00,242.32 289.00,242.96 290.00,243.64 291.00,244.35 292.00,245.08 293.00,245.85 294.00,246.65 295.00,247.49 296.00,248.36 297.00,249.26 298.00,250.19 299.00,251.17 300.00,252.17 301.00,253.21 302.00,254.28 303.00,255.38 304.00,256.52 305.00,257.68 306.00,258.88 307.00,260.10 308.00,261.35 309.00,262.61 310.00,263.89 311.00,265.20 312.00,266.52 313.00,267.84 314.00,269.17 315.00,270.51 316.00,271.85 317.00,273.18 318.00,274.51 319.00,275.83 320.00,277.13 321.00,278.41 322.00,279.68 323.00,280.93 324.00,282.15 325.00,283.34 326.00,284.50 327.00,285.64 328.00,286.75 329.00,287.82 330.00,288.85 331.00,289.86 332.00,290.83 333.00,291.77 334.00,292.67 335.00,293.54 336.00,294.37 337.00,295.17 338.00,295.94 339.00,296.68 340.00,297.39 341.00,298.06 342.00,298.71 343.00,299.33 344.00,299.92 345.00,300.48 346.00,301.02 347.00,301.53 348.00,302.02 349.00,302.49 350.00,302.93 351.00,303.36 352.00,303.76 353.00,304.15 354.00,304.51 355.00,304.86 356.00,305.19 357.00,305.51 358.00,305.81 359.00,306.09 360.00,306.36 361.00,306.62 362.00,306.87 363.00,307.10 364.00,307.32 365.00,307.54 366.00,307.74 367.00,307.93 368.00,308.11 369.00,308.28 370.00,308.44 371.00,308.60 372.00,308.75 373.00,308.89 374.00,309.02 375.00,309.15 376.00,309.27 377.00,309.39 378.00,309.49 379.00,309.60 380.00,309.70 381.00,309.79 382.00,309.88 383.00,309.96 384.00,310.04 385.00,310.12 386.00,310.19 387.00,310.26 388.00,310.33 389.00,310.39 390.00,310.45 391.00,310.50 392.00,310.56 393.00,310.61 394.00,310.66 395.00,310.70 396.00,310.75 397.00,310.79 398.00,310.83 399.00,310.86 400.00,310.90 401.00,310.93 402.00,310.97 403.00,311.00 404.00,311.02 405.00,311.05 406.00,311.08 407.00,311.10 408.00,311.13 409.00,311.15 410.00,311.17 411.00,311.18 412.00,311.20 413.00,311.23 414.00,311.27 415.00,311.33 416.00,311.42 417.00,311.51 418.00,311.61 419.00,311.72 420.00,311.83 421.00,311.94 422.00,312.06 423.00,312.19 424.00,312.32 425.00,312.46 426.00,312.60 427.00,312.75 428.00,312.90 429.00,313.06 430.00,313.23 431.00,313.40 432.00,313.58 433.00,313.77 434.00,313.96 435.00,314.15 436.00,314.35 437.00,314.56 438.00,314.77 439.00,314.98 440.00,315.20 441.00,315.43 442.00,315.67 443.00,315.93 444.00,316.21 445.00,316.49 446.00,316.79 447.00,317.10 448.00,317.43 449.00,317.76 450.00,318.11 451.00,318.47 452.00,318.84 453.00,319.21 454.00,319.61 455.00,320.02 456.00,320.45 457.00,320.90 458.00,321.37 459.00,321.85 460.00,322.36 461.00,322.88 462.00,323.43 463.00,323.99 464.00,324.58 465.00,325.19 466.00,325.82 467.00,326.50 468.00,327.24 469.00,328.02 470.00,328.86 471.00,329.75 472.00,330.69 473.00,331.70 474.00,332.79 475.00,333.96 476.00,335.20 477.00,336.52 478.00,337.91 479.00,339.40 480.00,341.01 481.00,342.73 482.00,344.57 483.00,346.51 484.00,348.55 485.00,350.68 486.00,353.01 487.00,355.70 488.00,359.01 489.00,362.93 490.00,367.10 491.00,371.21 492.00,375.25 493.00,379.33 494.00,383.52 495.00,387.90 496.00,392.52 497.00,397.70"/>
<polyline stroke="#ff2a2a" points="65.00,229.45 66.00,229.45 67.00,229.45 68.00,229.45 69.00,229.45 70.00,229.45 71.00,229.45 72.00,229.45 73.00,229.45 74.00,229.45 75.00,229.45 76.00,229.45 77.00,229.45 78.00,229.45 79.00,229.45 80.00,229.45 81.00,229.45 82.00,229.45 83.00,229.45 84.00,229.45 85.00,229.45 86.00,229.45 87.00,229.45 88.00,229.45 89.00,229.45 90.00,229.45 91.00,229.45 92.00,229.45 93.00,229.45 94.00,229.45 95.00,229.45 96.00,229.45 97.00,229.45 98.00,229.45 99.00,229.45 100.00,229.45 101.00,229.45 102.00,229.45 103.00,229.45 104.00,229.45 105.00,229.45 106.00,229.45 107.00,229.45 108.00,229.45 109.00,229.45 110.00,229.45 111.00,229.45 112.00,229.45 113.00,229.45 114.00,229.45 115.00,229.45 116.00,229.45 117.00,229.45 118.00,229.45 119.00,229.45 120.00,229.45 121.00,229.45 122.00,229.45 123.00,229.45 124.00,229.45 125.00,229.45 126.00,229.45 127.00,229.45 128.00,229.45 129.00,229.45 130.00,229.45 131.00,229.46 132.00,229.46 133.00,229.46 134.00,229.46 135.00,229.46 136.00,229.46 137.00,229.46 138.00,229.46 139.00,229.46 140.00,229.46 141.00,229.46 142.00,229.46 143.00,229.46 144.00,229.46 145.00,229.46 146.00,229.46 147.00,229.46 148.00,229.46 149.00,229.46 150.00,229.46 151.00,229.46 152.00,229.47 153.00,229.47 154.00,229.47 155.00,229.47 156.00,229.47 157.00,229.47 158.00,229.47 159.00,229.47 160.00,229.47 161.00,229.47 162.00,229.48 163.00,229.48 164.00,229.48 165.00,229.48 166.00,229.48 167.00,229.48 168.00,229.48 169.00,229.49 170.00,229.49 171.00,229.49 172.00,229.49 173.00,229.49 174.00,229.50 175.00,229.50 176.00,229.50 177.00,229.51 178.00,229.51 179.00,229.51 180.00,229.51 181.00,229.52 182.00,229.52 183.00,229.52 184.00,229.53 185.00,229.53 186.00,229.54 187.00,229.54 188.00,229.55 189.00,229.55 190.00,229.56 191.00,229.56 192.00,229.57 193.00,229.57 194.00,229.58 195.00,229.59 196.00,229.60 197.00,229.60 198.00,229.61 199.00,229.62 200.00,229.63 201.00,229.64 202.00,229.65 203.00,229.66 204.00,229.67 205.00,229.68 206.00,229.69 207.00,229.71 208.00,229.72 209.00,229.73 210.00,229.75 211.00,229.76 212.00,229.78 213.00,229.80 214.00,229.82 215.00,229.83 216.00,229.85 217.00,229.88 218.00,229.90 219.00,229.92 220.00,229.95 221.00,229.97 222.00,230.00 223.00,230.03 224.00,230.06 225.00,230.09 226.00,230.13 227.00,230.16 228.00,230.20 229.00,230.24 230.00,230.28 231.00,230.32 232.00,230.37 233.00,230.42 234.00,230.47 235.00,230.52 236.00,230.58 237.00,230.64 238.00,230.70 239.00,230.76 240.00,230.83 241.00,230.90 242.00,230.98 243.00,231.06 244.00,231.15 245.00,231.23 246.00,231.33 247.00,231.43 248.00,231.53 249.00,231.64 250.00,231.75 251.00,231.88 252.00,232.00 253.00,232.14 254.00,232.28 255.00,232.42 256.00,232.58 257.00,232.74 258.00,232.92 259.00,233.10 260.00,233.29 261.00,233.49 262.00,233.70 263.00,233.92 264.00,234.16 265.00,234.40 266.00,234.66 267.00,234.93 268.00,235.22 269.00,235.52 270.00,235.83 271.00,236.17 272.00,236.51 273.00,236.88 274.00,237.26 275.00,237.67 276.00,238.09 277.00,238.54 278.00,239.00 279.00,239.49 280.00,240.01 281.00,240.54 282.00,241.11 283.00,241.70 284.00,242.32 285.00,242.96 286.00,243.64 287.00,244.35 288.00,245.08 289.00,245.85 290.00,246.65 291.00,247.49 292.00,248.36 293.00,249.26 294.00,250.19 295.00,251.17 296.00,252.17 297.00,253.21 298.00,254.28 299.00,255.38 300.00,256.52 301.00,257.68 302.00,258.88 303.00,260.10 304.00,261.35 305.00,262.61 306.00,263.89 307.00,265.20 308.00,266.52 309.00,267.84 310.00,269.17 311.00,270.51 312.00,271.85 313.00,273.18 314.00,274.51 315.00,275.83 316.00,277.13 317.00,278.41 318.00,279.68 319.00,280.93 320.00,282.15 321.00,283.34 322.00,284.50 323.00,285.64 324.00,286.75 325.00,287.82 326.00,288.85 327.00,289.86 328.00,290.83 329.00,291.77 330.00,292.67 331.00,293.54 332.00,294.37 333.00,295.17 334.00,295.94 335.00,296.68 336.00,297.39 337.00,298.06 338.00,298.71 339.00,299.33 340.00,299.92 341.00,300.48 342.00,301.02 343.00,301.53 344.00,302.02 345.00,302.49 346.00,302.93 347.00,303.36 348.00,303.76 349.00,304.15 350.00,304.51 351.00,304.86 352.00,305.19 353.00,305.51 354.00,305.81 355.00,306.09 356.00,306.36 357.00,306.62 358.00,306.87 359.00,307.10 360.00,307.32 361.00,307.54 362.00,307.74 363.00,307.93 364.00,308.11 365.00,308.28 366.00,308.44 367.00,308.60 368.00,308.75 369.00,308.89 370.00,309.02 371.00,309.15 372.00,309.27 373.00,309.39 374.00,309.49 375.00,309.60 376.00,309.70 377.00,309.79 378.00,309.88 379.00,309.96 380.00,310.04 381.00,310.12 382.00,310.19 383.00,310.26 384.00,310.33 385.00,310.39 386.00,310.45 387.00,310.50 388.00,310.56 389.00,310.61 390.00,310.66 391.00,310.70 392.00,310.75 393.00,310.79 394.00,310.83 395.00,310.86 396.00,310.90 397.00,310.93 398.00,310.97 399.00,311.00 400.00,311.02 401.00,311.05 402.00,311.08 403.00,311.10 404.00,311.13 405.00,311.15 406.00,311.17 407.00,311.19 408.00,311.21 409.00,311.23 410.00,311.24 411.00,311.26 412.00,311.27 413.00,311.29 414.00,311.34 415.00,311.43 416.00,311.56 417.00,311.70 418.00,311.86 419.00,312.02 420.00,312.18 421.00,312.33 422.00,312.49 423.00,312.65 424.00,312.82 425.00,312.99 426.00,313.17 427.00,313.35 428.00,313.54 429.00,313.73 430.00,313.93 431.00,314.13 432.00,314.34 433.00,314.55 434.00,314.77 435.00,315.00 436.00,315.23 437.00,315.46 438.00,315.70 439.00,315.95 440.00,316.20 441.00,316.46 442.00,316.73 443.00,317.02 444.00,317.31 445.00,317.62 446.00,317.94 447.00,318.27 448.00,318.61 449.00,318.97 450.00,319.34 451.00,319.72 452.00,320.11 453.00,320.52 454.00,320.95 455.00,321.40 456.00,321.86 457.00,322.35 458.00,322.85 459.00,323.38 460.00,323.93 461.00,324.51 462.00,325.11 463.00,325.73 464.00,326.38 465.00,327.05 466.00,327.76 467.00,328.53 468.00,329.36 469.00,330.26 470.00,331.22 471.00,332.24 472.00,333.32 473.00,334.47 474.00,335.71 475.00,337.04 476.00,338.47 477.00,340.00 478.00,341.66 479.00,343.47 480.00,345.50 481.00,347.74 482.00,350.15 483.00,352.71 484.00,355.43 485.00,358.43 486.00,361.66 487.00,365.05 488.00,368.57 489.00,372.15 490.00,375.76 491.00,379.51 492.00,383.48 493.00,387.78 494.00,392.50 494.90,397.70"/>
<polyline stroke="#e09400" points="65.00,229.45 66.00,229.45 67.00,229.45 68.00,229.45 69.00,229.45 70.00,229.45 71.00,229.45 72.00,229.45 73.00,229.45 74.00,229.45 75.00,229.45 76.00,229.45 77.00,229.45 78.00,229.45 79.00,229.45 80.00,229.45 81.00,229.45 82.00,229.45 83.00,229.45 84.00,229.45 85.00,229.45 86.00,229.45 87.00,229.45 88.00,229.45 89.00,229.45 90.00,229.45 91.00,229.45 92.00,229.45 93.00,229.45 94.00,229.45 95.00,229.45 96.00,229.45 97.00,229.45 98.00,229.45 99.00,229.45 100.00,229.45 101.00,229.45 102.00,229.45 103.00,229.45 104.00,229.45 105.00,229.45 106.00,229.45 107.00,229.45 108.00,229.45 109.00,229.45 110.00,229.45 111.00,229.45 112.00,229.45 113.00,229.45 114.00,229.45 115.00,229.45 116.00,229.45 117.00,229.45 118.00,229.45 119.00,229.45 120.00,229.45 121.00,229.45 122.00,229.45 123.00,229.45 124.00,229.45 125.00,229.45 126.00,229.45 127.00,229.45 128.00,229.45 129.00,229.45 130.00,229.45 131.00,229.45 132.00,229.45 133.00,229.45 134.00,229.45 135.00,229.46 136.00,229.46 137.00,229.46 138.00,229.46 139.00,229.46 140.00,229.46 141.00,229.46 142.00,229.46 143.00,229.46 144.00,229.46 145.00,229.46 146.00,229.46 147.00,229.46 148.00,229.46 149.00,229.46 150.00,229.46 151.00,229.46 152.00,229.46 153.00,229.46 154.00,229.46 155.00,229.46 156.00,229.47 157.00,229.47 158.00,229.47 159.00,229.47 160.00,229.47 161.00,229.47 162.00,229.47 163.00,229.47 164.00,229.47 165.00,229.47 166.00,229.48 167.00,229.48 168.00,229.48 169.00,229.48 170.00,229.48 171.00,229.48 172.00,229.48 173.00,229.49 174.00,229.49 175.00,229.49 176.00,229.49 177.00,229.49 178.00,229.50 179.00,229.50 180.00,229.50 181.00,229.51 182.00,229.51 183.00,229.51 184.00,229.51 185.00,229.52 186.00,229.52 187.00,229.52 188.00,229.53 189.00,229.53 190.00,229.54 191.00,229.54 192.00,229.55 193.00,229.55 194.00,229.56 195.00,229.56 196.00,229.57 197.00,229.57 198.00,229.58 199.00,229.59 200.00,229.60 201.00,229.60 202.00,229.61 203.00,229.62 204.00,229.63 205.00,229.64 206.00,229.65 207.00,229.66 208.00,229.67 209.00,229.68 210.00,229.69 211.00,229.71 212.00,229.72 213.00,229.73 214.00,229.75 215.00,229.76 216.00,229.78 217.00,229.80 218.00,229.82 219.00,229.83 220.00,229.85 221.00,229.88 222.00,229.90 223.00,229.92 224.00,229.95 225.00,229.97 226.00,230.00 227.00,230.03 228.00,230.06 229.00,230.09 230.00,230.13 231.00,230.16 232.00,230.20 233.00,230.24 234.00,230.28 235.00,230.32 236.00,230.37 237.00,230.42 238.00,230.47 239.00,230.52 240.00,230.58 241.00,230.64 242.00,230.70 243.00,230.76 244.00,230.83 245.00,230.90 246.00,230.98 247.00,231.06 248.00,231.15 249.00,231.23 250.00,231.33 251.00,231.43 252.00,231.53 253.00,231.64 254.00,231.75 255.00,231.88 256.00,232.00 257.00,232.14 258.00,232.28 259.00,232.42 260.00,232.58 261.00,232.74 262.00,232.92 263.00,233.10 264.00,233.29 265.00,233.49 266.00,233.70 267.00,233.92 268.00,234.16 269.00,234.40 270.00,234.66 271.00,234.93 272.00,235.22 273.00,235.52 274.00,235.83 275.00,236.17 276.00,236.51 277.00,236.88 278.00,237.26 279.00,237.67 280.00,238.09 281.00,238.54 282.00,239.00 283.00,239.49 284.00,240.01 285.00,240.54 286.00,241.11 287.00,241.70 288.00,242.32 289.00,242.96 290.00,243.64 291.00,244.35 292.00,245.08 293.00,245.85 294.00,246.65 295.00,247.49 296.00,248.36 297.00,249.26 298.00,250.19 299.00,251.17 300.00,252.17 301.00,253.21 302.00,254.28 303.00,255.38 304.00,256.52 305.00,257.68 306.00,258.88 307.00,260.10 308.00,261.35 309.00,262.61 310.00,263.89 311.00,265.20 312.00,266.52 313.00,267.84 314.00,269.17 315.00,270.51 316.00,271.85 317.00,273.18 318.00,274.51 319.00,275.83 320.00,277.13 321.00,278.41 322.00,279.68 323.00,280.93 324.00,282.15 325.00,283.34 326.00,284.50 327.00,285.64 328.00,286.75 329.00,287.82 330.00,288.85 331.00,289.86 332.00,290.83 333.00,291.77 334.00,292.67 335.00,293.54 336.00,294.37 337.00,295.17 338.00,295.94 339.00,296.68 340.00,297.39 341.00,298.06 342.00,298.71 343.00,299.33 344.00,299.92 345.00,300.48 346.00,301.02 347.00,301.53 348.00,302.02 349.00,302.49 350.00,302.93 351.00,303.36 352.00,303.76 353.00,304.15 354.00,304.51 355.00,304.86 356.00,305.19 357.00,305.51 358.00,305.81 359.00,306.09 360.00,306.36 361.00,306.62 362.00,306.87 363.00,307.10 364.00,307.32 365.00,307.54 366.00,307.74 367.00,307.93 368.00,308.11 369.00,308.28 370.00,308.44 371.00,308.60 372.00,308.75 373.00,308.89 374.00,309.02 375.00,309.15 376.00,309.27 377.00,309.39 378.00,309.49 379.00,309.60 380.00,309.70 381.00,309.79 382.00,309.88 383.00,309.96 384.00,310.04 385.00,310.12 386.00,310.19 387.00,310.26 388.00,310.33 389.00,310.39 390.00,310.45 391.00,310.50 392.00,310.56 393.00,310.61 394.00,310.66 395.00,310.70 396.00,310.75 397.00,310.79 398.00,310.83 399.00,310.86 400.00,310.90 401.00,310.93 402.00,310.97 403.00,311.00 404.00,311.02 405.00,311.05 406.00,311.08 407.00,311.10 408.00,311.13 409.00,311.15 410.00,311.17 411.00,311.19 412.00,311.20 413.00,311.23 414.00,311.26 415.00,311.31 416.00,311.36 417.00,311.42 418.00,311.49 419.00,311.56 420.00,311.63 421.00,311.71 422.00,311.80 423.00,311.89 424.00,311.99 425.00,312.10 426.00,312.22 427.00,312.33 428.00,312.46 429.00,312.59 430.00,312.73 431.00,312.87 432.00,313.01 433.00,313.16 434.00,313.31 435.00,313.47 436.00,313.63 437.00,313.79 438.00,313.96 439.00,314.13 440.00,314.30 441.00,314.48 442.00,314.66 443.00,314.85 444.00,315.05 445.00,315.26 446.00,315.48 447.00,315.71 448.00,315.95 449.00,316.20 450.00,316.45 451.00,316.72 452.00,317.00 453.00,317.29 454.00,317.60 455.00,317.92 456.00,318.27 457.00,318.64 458.00,319.02 459.00,319.42 460.00,319.83 461.00,320.26 462.00,320.69 463.00,321.14 464.00,321.60 465.00,322.06 466.00,322.54 467.00,323.04 468.00,323.57 469.00,324.12 470.00,324.70 471.00,325.30 472.00,325.93 473.00,326.55 474.00,327.18 475.00,327.85 476.00,328.57 477.00,329.38 478.00,330.30 479.00,331.40 480.00,332.75 481.00,334.30 482.00,336.02 483.00,337.84 484.00,339.74 485.00,341.68 486.00,343.74 487.00,346.00 488.00,348.51 489.00,351.39 490.00,354.86 491.00,358.95 492.00,363.71 493.00,368.60 494.00,373.14 495.00,377.44 496.00,381.71 497.00,386.15 498.00,390.94 499.00,396.48 499.20,397.70"/>
<polyline stroke="#00b060" points="65.00,229.45 66.00,229.45 67.00,229.45 68.00,229.45 69.00,229.45 70.00,229.45 71.00,229.45 72.00,229.45 73.00,229.45 74.00,229.45 75.00,229.45 76.00,229.45 77.00,229.45 78.00,229.45 79.00,229.45 80.00,229.45 81.00,229.45 82.00,229.45 83.00,229.45 84.00,229.45 85.00,229.45 86.00,229.45 87.00,229.45 88.00,229.45 89.00,229.45 90.00,229.45 91.00,229.45 92.00,229.45 93.00,229.45 94.00,229.45 95.00,229.45 96.00,229.45 97.00,229.45 98.00,229.45 99.00,229.45 100.00,229.45 101.00,229.45 102.00,229.45 103.00,229.45 104.00,229.45 105.00,229.45 106.00,229.45 107.00,229.45 108.00,229.45 109.00,229.45 110.00,229.45 111.00,229.45 112.00,229.45 113.00,229.45 114.00,229.45 115.00,229.45 116.00,229.45 117.00,229.45 118.00,229.45 119.00,229.45 120.00,229.45 121.00,229.45 122.00,229.45 123.00,229.45 124.00,229.45 125.00,229.45 126.00,229.45 127.00,229.45 128.00,229.45 129.00,229.45 130.00,229.45 131.00,229.45 132.00,229.45 133.00,229.45 134.00,229.45 135.00,229.46 136.00,229.46 137.00,229.46 138.00,229.46 139.00,229.46 140.00,229.46 141.00,229.46 142.00,229.46 143.00,229.46 144.00,229.46 145.00,229.46 146.00,229.46 147.00,229.46 148.00,229.46 149.00,229.46 150.00,229.46 151.00,229.46 152.00,229.46 153.00,229.46 154.00,229.46 155.00,229.46 156.00,229.47 157.00,229.47 158.00,229.47 159.00,229.47 160.00,229.47 161.00,229.47 162.00,229.47 163.00,229.47 164.00,229.47 165.00,229.47 166.00,229.48 167.00,229.48 168.00,229.48 169.00,229.48 170.00,229.48 171.00,229.48 172.00,229.48 173.00,229.49 174.00,229.49 175.00,229.49 176.00,229.49 177.00,229.49 178.00,229.50 179.00,229.50 180.00,229.50 181.00,229.51 182.00,229.51 183.00,229.51 184.00,229.51 185.00,229.52 186.00,229.52 187.00,229.52 188.00,229.53 189.00,229.53 190.00,229.54 191.00,229.54 192.00,229.55 193.00,229.55 194.00,229.56 195.00,229.56 196.00,229.57 197.00,229.57 198.00,229.58 199.00,229.59 200.00,229.60 201.00,229.60 202.00,229.61 203.00,229.62 204.00,229.63 205.00,229.64 206.00,229.65 207.00,229.66 208.00,229.67 209.00,229.68 210.00,229.69 211.00,229.71 212.00,229.72 213.00,229.73 214.00,229.75 215.00,229.76 216.00,229.78 217.00,229.80 218.00,229.82 219.00,229.83 220.00,229.85 221.00,229.88 222.00,229.90 223.00,229.92 224.00,229.95 225.00,229.97 226.00,230.00 227.00,230.03 228.00,230.06 229.00,230.09 230.00,230.13 231.00,230.16 232.00,230.20 233.00,230.24 234.00,230.28 235.00,230.32 236.00,230.37 237.00,230.42 238.00,230.47 239.00,230.52 240.00,230.58 241.00,230.64 242.00,230.70 243.00,230.76 244.00,230.83 245.00,230.90 246.00,230.98 247.00,231.06 248.00,231.15 249.00,231.23 250.00,231.33 251.00,231.43 252.00,231.53 253.00,231.64 254.00,231.75 255.00,231.88 256.00,232.00 257.00,232.14 258.00,232.28 259.00,232.42 260.00,232.58 261.00,232.74 262.00,232.92 263.00,233.10 264.00,233.29 265.00,233.49 266.00,233.70 267.00,233.92 268.00,234.16 269.00,234.40 270.00,234.66 271.00,234.93 272.00,235.22 273.00,235.52 274.00,235.83 275.00,236.17 276.00,236.51 277.00,236.88 278.00,237.26 279.00,237.67 280.00,238.09 281.00,238.54 282.00,239.00 283.00,239.49 284.00,240.01 285.00,240.54 286.00,241.11 287.00,241.70 288.00,242.32 289.00,242.96 290.00,243.64 291.00,244.35 292.00,245.08 293.00,245.85 294.00,246.65 295.00,247.49 296.00,248.36 297.00,249.26 298.00,250.19 299.00,251.17 300.00,252.17 301.00,253.21 302.00,254.28 303.00,255.38 304.00,256.52 305.00,257.68 306.00,258.88 307.00,260.10 308.00,261.35 309.00,262.61 310.00,263.89 311.00,265.20 312.00,266.52 313.00,267.84 314.00,269.17 315.00,270.51 316.00,271.85 317.00,273.18 318.00,274.51 319.00,275.83 320.00,277.13 321.00,278.41 322.00,279.68 323.00,280.93 324.00,282.15 325.00,283.34 326.00,284.50 327.00,285.64 328.00,286.75 329.00,287.82 330.00,288.85 331.00,289.86 332.00,290.83 333.00,291.77 334.00,292.67 335.00,293.54 336.00,294.37 337.00,295.17 338.00,295.94 339.00,296.68 340.00,297.39 341.00,298.06 342.00,298.71 343.00,299.33 344.00,299.92 345.00,300.48 346.00,301.02 347.00,301.53 348.00,302.02 349.00,302.49 350.00,302.93 351.00,303.36 352.00,303.76 353.00,304.15 354.00,304.51 355.00,304.86 356.00,305.19 357.00,305.51 358.00,305.81 359.00,306.09 360.00,306.36 361.00,306.62 362.00,306.87 363.00,307.10 364.00,307.32 365.00,307.54 366.00,307.74 367.00,307.93 368.00,308.11 369.00,308.28 370.00,308.44 371.00,308.60 372.00,308.75 373.00,308.89 374.00,309.02 375.00,309.15 376.00,309.27 377.00,309.39 378.00,309.49 379.00,309.60 380.00,309.70 381.00,309.79 382.00,309.88 383.00,309.96 384.00,310.04 385.00,310.12 386.00,310.19 387.00,310.26 388.00,310.33 389.00,310.39 390.00,310.45 391.00,310.50 392.00,310.56 393.00,310.61 394.00,310.66 395.00,310.70 396.00,310.75 397.00,310.79 398.00,310.83 399.00,310.86 400.00,310.90 401.00,310.93 402.00,310.97 403.00,311.00 404.00,311.02 405.00,311.05 406.00,311.08 407.00,311.10 408.00,311.13 409.00,311.15 410.00,311.17 411.00,311.19 412.00,311.20 413.00,311.23 414.00,311.26 415.00,311.31 416.00,311.36 417.00,311.42 418.00,311.49 419.00,311.56 420.00,311.63 421.00,311.71 422.00,311.80 423.00,311.89 424.00,311.99 425.00,312.10 426.00,312.22 427.00,312.33 428.00,312.46 429.00,312.59 430.00,312.73 431.00,312.87 432.00,313.01 433.00,313.16 434.00,313.31 435.00,313.47 436.00,313.63 437.00,313.79 438.00,313.96 439.00,314.13 440.00,314.30 441.00,314.48 442.00,314.66 443.00,314.85 444.00,315.05 445.00,315.26 446.00,315.48 447.00,315.71 448.00,315.95 449.00,316.20 450.00,316.45 451.00,316.72 452.00,317.00 453.00,317.29 454.00,317.60 455.00,317.92 456.00,318.27 457.00,318.64 458.00,319.02 459.00,319.42 460.00,319.83 461.00,320.26 462.00,320.69 463.00,321.14 464.00,321.60 465.00,322.06 466.00,322.54 467.00,323.04 468.00,323.57 469.00,324.12 470.00,324.70 471.00,325.30 472.00,325.93 473.00,326.55 474.00,327.18 475.00,327.85 476.00,328.57 477.00,329.38 478.00,330.30 479.00,331.40 480.00,332.75 481.00,334.30 482.00,336.02 483.00,337.84 484.00,339.74 485.00,341.68 486.00,343.74 487.00,346.00 488.00,348.51 489.00,351.39 490.00,354.86 491.00,358.95 492.00,363.71 493.00,368.60 494.00,373.14 495.00,377.44 496.00,381.71 497.00,386.15 498.00,390.94 499.00,396.48 499.20,397.70"/>
<polyline stroke="#c77cf0" points="65.00,229.45 66.00,229.45 67.00,229.45 68.00,229.45 69.00,229.45 70.00,229.45 71.00,229.45 72.00,229.45 73.00,229.45 74.00,229.45 75.00,229.45 76.00,229.45 77.00,229.45 78.00,229.45 79.00,229.45 80.00,229.45 81.00,229.45 82.00,229.45 83.00,229.45 84.00,229.45 85.00,229.45 86.00,229.45 87.00,229.45 88.00,229.45 89.00,229.45 90.00,229.45 91.00,229.45 92.00,229.45 93.00,229.45 94.00,229.45 95.00,229.45 96.00,229.45 97.00,229.45 98.00,229.45 99.00,229.45 100.00,229.45 101.00,229.45 102.00,229.45 103.00,229.45 104.00,229.45 105.00,229.45 106.00,229.45 107.00,229.45 108.00,229.45 109.00,229.45 110.00,229.45 111.00,229.45 112.00,229.45 113.00,229.45 114.00,229.45 115.00,229.45 116.00,229.45 117.00,229.45 118.00,229.45 119.00,229.45 120.00,229.45 121.00,229.45 122.00,229.45 123.00,229.45 124.00,229.45 125.00,229.45 126.00,229.46 127.00,229.46 128.00,229.46 129.00,229.46 130.00,229.46 131.00,229.46 132.00,229.46 133.00,229.46 134.00,229.46 135.00,229.46 136.00,229.46 137.00,229.46 138.00,229.46 139.00,229.46 140.00,229.46 141.00,229.46 142.00,229.46 143.00,229.46 144.00,229.46 145.00,229.46 146.00,229.46 147.00,229.46 148.00,229.47 149.00,229.47 150.00,229.47 151.00,229.47 152.00,229.47 153.00,229.47 154.00,229.47 155.00,229.47 156.00,229.47 157.00,229.47 158.00,229.48 159.00,229.48 160.00,229.48 161.00,229.48 162.00,229.48 163.00,229.48 164.00,229.49 165.00,229.49 166.00,229.49 167.00,229.49 168.00,229.49 169.00,229.50 170.00,229.50 171.00,229.50 172.00,229.50 173.00,229.51 174.00,229.51 175.00,229.51 176.00,229.51 177.00,229.52 178.00,229.52 179.00,229.53 180.00,229.53 181.00,229.53 182.00,229.54 183.00,229.54 184.00,229.55 185.00,229.55 186.00,229.56 187.00,229.56 188.00,229.57 189.00,229.58 190.00,229.58 191.00,229.59 192.00,229.60 193.00,229.60 194.00,229.61 195.00,229.62 196.00,229.63 197.00,229.64 198.00,229.65 199.00,229.66 200.00,229.67 201.00,229.68 202.00,229.70 203.00,229.71 204.00,229.72 205.00,229.74 206.00,229.75 207.00,229.77 208.00,229.78 209.00,229.80 210.00,229.82 211.00,229.84 212.00,229.86 213.00,229.88 214.00,229.90 215.00,229.93 216.00,229.95 217.00,229.98 218.00,230.01 219.00,230.04 220.00,230.07 221.00,230.10 222.00,230.13 223.00,230.17 224.00,230.21 225.00,230.25 226.00,230.29 227.00,230.33 228.00,230.38 229.00,230.43 230.00,230.48 231.00,230.53 232.00,230.59 233.00,230.65 234.00,230.71 235.00,230.78 236.00,230.85 237.00,230.92 238.00,231.00 239.00,231.08 240.00,231.16 241.00,231.25 242.00,231.35 243.00,231.45 244.00,231.55 245.00,231.66 246.00,231.78 247.00,231.90 248.00,232.03 249.00,232.16 250.00,232.31 251.00,232.46 252.00,232.61 253.00,232.78 254.00,232.95 255.00,233.14 256.00,233.33 257.00,233.53 258.00,233.74 259.00,233.97 260.00,234.21 261.00,234.45 262.00,234.71 263.00,234.99 264.00,235.28 265.00,235.58 266.00,235.90 267.00,236.23 268.00,236.59 269.00,236.96 270.00,237.34 271.00,237.75 272.00,238.18 273.00,238.63 274.00,239.10 275.00,239.59 276.00,240.11 277.00,240.65 278.00,241.22 279.00,241.82 280.00,242.44 281.00,243.10 282.00,243.78 283.00,244.49 284.00,245.24 285.00,246.01 286.00,246.82 287.00,247.66 288.00,248.54 289.00,249.44 290.00,250.38 291.00,251.36 292.00,252.38 293.00,253.42 294.00,254.50 295.00,255.61 296.00,256.75 297.00,257.92 298.00,259.12 299.00,260.35 300.00,261.60 301.00,262.87 302.00,264.15 303.00,265.46 304.00,266.78 305.00,268.11 306.00,269.44 307.00,270.78 308.00,272.12 309.00,273.45 310.00,274.77 311.00,276.09 312.00,277.39 313.00,278.67 314.00,279.93 315.00,281.17 316.00,282.39 317.00,283.58 318.00,284.73 319.00,285.86 320.00,286.96 321.00,288.03 322.00,289.06 323.00,290.06 324.00,291.02 325.00,291.95 326.00,292.84 327.00,293.71 328.00,294.54 329.00,295.33 330.00,296.09 331.00,296.82 332.00,297.52 333.00,298.19 334.00,298.83 335.00,299.45 336.00,300.03 337.00,300.59 338.00,301.12 339.00,301.63 340.00,302.12 341.00,302.58 342.00,303.02 343.00,303.44 344.00,303.84 345.00,304.22 346.00,304.58 347.00,304.93 348.00,305.26 349.00,305.57 350.00,305.86 351.00,306.15 352.00,306.42 353.00,306.67 354.00,306.92 355.00,307.15 356.00,307.37 357.00,307.58 358.00,307.77 359.00,307.96 360.00,308.14 361.00,308.31 362.00,308.48 363.00,308.63 364.00,308.78 365.00,308.92 366.00,309.05 367.00,309.17 368.00,309.29 369.00,309.41 370.00,309.52 371.00,309.62 372.00,309.72 373.00,309.81 374.00,309.90 375.00,309.98 376.00,310.06 377.00,310.14 378.00,310.21 379.00,310.28 380.00,310.34 381.00,310.40 382.00,310.46 383.00,310.52 384.00,310.57 385.00,310.62 386.00,310.66 387.00,310.70 388.00,310.74 389.00,310.80 390.00,310.90 391.00,311.07 392.00,311.27 393.00,311.47 394.00,311.66 395.00,311.80 396.00,311.91 397.00,312.01 398.00,312.10 399.00,312.18 400.00,312.26 401.00,312.33 402.00,312.40 403.00,312.47 404.00,312.53 405.00,312.59 406.00,312.64 407.00,312.70 408.00,312.75 409.00,312.81 410.00,312.86 411.00,312.92 412.00,312.98 413.00,313.04 414.00,313.11 415.00,313.18 416.00,313.25 417.00,313.33 418.00,313.42 419.00,313.51 420.00,313.62 421.00,313.72 422.00,313.84 423.00,313.97 424.00,314.10 425.00,314.24 426.00,314.39 427.00,314.55 428.00,314.71 429.00,314.89 430.00,315.07 431.00,315.25 432.00,315.44 433.00,315.64 434.00,315.85 435.00,316.06 436.00,316.27 437.00,316.50 438.00,316.73 439.00,316.96 440.00,317.20 441.00,317.45 442.00,317.72 443.00,318.00 444.00,318.30 445.00,318.61 446.00,318.95 447.00,319.30 448.00,319.66 449.00,320.04 450.00,320.44 451.00,320.86 452.00,321.29 453.00,321.74 454.00,322.21 455.00,322.72 456.00,323.26 457.00,323.83 458.00,324.43 459.00,325.06 460.00,325.72 461.00,326.41 462.00,327.13 463.00,327.88 464.00,328.67 465.00,329.48 466.00,330.34 467.00,331.28 468.00,332.32 469.00,333.43 470.00,334.62 471.00,335.87 472.00,337.16 473.00,338.45 474.00,339.77 475.00,341.18 476.00,342.75 477.00,344.55 478.00,346.64 479.00,349.47 480.00,353.28 481.00,357.12 482.00,360.94 483.00,364.85 484.00,368.81 485.00,372.71 486.00,376.44 487.00,380.17 488.00,384.06 489.00,388.28 490.00,393.00 490.80,397.70"/>
</g>
<g fill="none" stroke="#000" stroke-width="2">
<rect x="65.0" y="11.5" width="470.40" height="187.20"/>
<rect x="65.0" y="211.2" width="471.30" height="182.50"/>
</g>
<g stroke="#000" stroke-width="1.4">
<line x1="65.00" y1="198.7" x2="65.00" y2="191.7"/>
<line x1="65.00" y1="11.5" x2="65.00" y2="18.5"/>
<line x1="112.04" y1="198.7" x2="112.04" y2="195.2"/>
<line x1="112.04" y1="11.5" x2="112.04" y2="15.0"/>
<line x1="159.08" y1="198.7" x2="159.08" y2="191.7"/>
<line x1="159.08" y1="11.5" x2="159.08" y2="18.5"/>
<line x1="206.12" y1="198.7" x2="206.12" y2="195.2"/>
<line x1="206.12" y1="11.5" x2="206.12" y2="15.0"/>
<line x1="253.16" y1="198.7" x2="253.16" y2="191.7"/>
<line x1="253.16" y1="11.5" x2="253.16" y2="18.5"/>
<line x1="300.20" y1="198.7" x2="300.20" y2="195.2"/>
<line x1="300.20" y1="11.5" x2="300.20" y2="15.0"/>
<line x1="347.24" y1="198.7" x2="347.24" y2="191.7"/>
<line x1="347.24" y1="11.5" x2="347.24" y2="18.5"/>
<line x1="394.28" y1="198.7" x2="394.28" y2="195.2"/>
<line x1="394.28" y1="11.5" x2="394.28" y2="15.0"/>
<line x1="441.32" y1="198.7" x2="441.32" y2="191.7"/>
<line x1="441.32" y1="11.5" x2="441.32" y2="18.5"/>
<line x1="488.36" y1="198.7" x2="488.36" y2="195.2"/>
<line x1="488.36" y1="11.5" x2="488.36" y2="15.0"/>
<line x1="534.10" y1="198.7" x2="534.10" y2="191.7"/>
<line x1="534.10" y1="11.5" x2="534.10" y2="18.5"/>
<line x1="65.00" y1="393.7" x2="65.00" y2="386.7"/>
<line x1="65.00" y1="211.2" x2="65.00" y2="218.2"/>
<line x1="112.04" y1="393.7" x2="112.04" y2="390.2"/>
<line x1="112.04" y1="211.2" x2="112.04" y2="214.7"/>
<line x1="159.08" y1="393.7" x2="159.08" y2="386.7"/>
<line x1="159.08" y1="211.2" x2="159.08" y2="218.2"/>
<line x1="206.12" y1="393.7" x2="206.12" y2="390.2"/>
<line x1="206.12" y1="211.2" x2="206.12" y2="214.7"/>
<line x1="253.16" y1="393.7" x2="253.16" y2="386.7"/>
<line x1="253.16" y1="211.2" x2="253.16" y2="218.2"/>
<line x1="300.20" y1="393.7" x2="300.20" y2="390.2"/>
<line x1="300.20" y1="211.2" x2="300.20" y2="214.7"/>
<line x1="347.24" y1="393.7" x2="347.24" y2="386.7"/>
<line x1="347.24" y1="211.2" x2="347.24" y2="218.2"/>
<line x1="394.28" y1="393.7" x2="394.28" y2="390.2"/>
<line x1="394.28" y1="211.2" x2="394.28" y2="214.7"/>
<line x1="441.32" y1="393.7" x2="441.32" y2="386.7"/>
<line x1="441.32" y1="211.2" x2="441.32" y2="218.2"/>
<line x1="488.36" y1="393.7" x2="488.36" y2="390.2"/>
<line x1="488.36" y1="211.2" x2="488.36" y2="214.7"/>
<line x1="534.10" y1="393.7" x2="534.10" y2="386.7"/>
<line x1="534.10" y1="211.2" x2="534.10" y2="218.2"/>
<line x1="65.0" y1="11.50" x2="72.0" y2="11.50"/>
<line x1="535.4" y1="11.50" x2="528.4" y2="11.50"/>
<line x1="65.0" y1="42.70" x2="68.5" y2="42.70"/>
<line x1="535.4" y1="42.70" x2="531.9" y2="42.70"/>
<line x1="65.0" y1="73.90" x2="72.0" y2="73.90"/>
<line x1="535.4" y1="73.90" x2="528.4" y2="73.90"/>
<line x1="65.0" y1="105.10" x2="68.5" y2="105.10"/>
<line x1="535.4" y1="105.10" x2="531.9" y2="105.10"/>
<line x1="65.0" y1="136.30" x2="72.0" y2="136.30"/>
<line x1="535.4" y1="136.30" x2="528.4" y2="136.30"/>
<line x1="65.0" y1="167.50" x2="68.5" y2="167.50"/>
<line x1="535.4" y1="167.50" x2="531.9" y2="167.50"/>
<line x1="65.0" y1="198.70" x2="72.0" y2="198.70"/>
<line x1="535.4" y1="198.70" x2="528.4" y2="198.70"/>
<line x1="65.0" y1="211.20" x2="72.0" y2="211.20"/>
<line x1="536.3" y1="211.20" x2="529.3" y2="211.20"/>
<line x1="65.0" y1="234.01" x2="68.5" y2="234.01"/>
<line x1="536.3" y1="234.01" x2="532.8" y2="234.01"/>
<line x1="65.0" y1="256.82" x2="72.0" y2="256.82"/>
<line x1="536.3" y1="256.82" x2="529.3" y2="256.82"/>
<line x1="65.0" y1="279.64" x2="68.5" y2="279.64"/>
<line x1="536.3" y1="279.64" x2="532.8" y2="279.64"/>
<line x1="65.0" y1="302.45" x2="72.0" y2="302.45"/>
<line x1="536.3" y1="302.45" x2="529.3" y2="302.45"/>
<line x1="65.0" y1="325.26" x2="68.5" y2="325.26"/>
<line x1="536.3" y1="325.26" x2="532.8" y2="325.26"/>
<line x1="65.0" y1="348.07" x2="72.0" y2="348.07"/>
<line x1="536.3" y1="348.07" x2="529.3" y2="348.07"/>
<line x1="65.0" y1="370.89" x2="68.5" y2="370.89"/>
<line x1="536.3" y1="370.89" x2="532.8" y2="370.89"/>
<line x1="65.0" y1="393.70" x2="72.0" y2="393.70"/>
<line x1="536.3" y1="393.70" x2="529.3" y2="393.70"/>
</g>
<g class="ser" font-weight="bold" font-size="16" text-anchor="end" fill="#000">
<text x="56.5" y="16.50">100</text>
<text x="56.5" y="78.90">50</text>
<text x="56.5" y="141.30">0</text>
<text x="56.5" y="203.30"><tspan font-size="26" font-weight="normal" dy="3.6">−</tspan><tspan dx="-1.6" dy="-3.6">50</tspan></text>
<text x="56.5" y="215.70">200</text>
<text x="56.5" y="261.82">150</text>
<text x="56.5" y="307.45">100</text>
<text x="56.5" y="353.07">50</text>
<text x="56.5" y="398.70">0</text>
</g>
<g class="ser" font-weight="bold" font-size="16" fill="#000">
<text x="65.00" y="417.5" text-anchor="middle">10<tspan font-size="11" dy="-7.6" dx="-1.6">−</tspan><tspan font-size="11" dx="-1.0">1</tspan></text>
<text x="159.08" y="417.5" text-anchor="middle">10<tspan font-size="11" dy="-7">1</tspan></text>
<text x="253.16" y="417.5" text-anchor="middle">10<tspan font-size="11" dy="-7">3</tspan></text>
<text x="347.24" y="417.5" text-anchor="middle">10<tspan font-size="11" dy="-7">5</tspan></text>
<text x="441.32" y="417.5" text-anchor="middle">10<tspan font-size="11" dy="-7">7</tspan></text>
<text x="535.40" y="417.5" text-anchor="middle">10<tspan font-size="11" dy="-7">9</tspan></text>
</g>
<text transform="translate(29.0,105.05) rotate(-90)" text-anchor="middle" class="ser" font-size="24.3">Gain/dB</text>
<text transform="translate(22.9,302.5) rotate(-90)" text-anchor="middle" class="ser" font-size="23.7" textLength="123.4" lengthAdjust="spacingAndGlyphs">Phase/degree</text>
<text x="295.7" y="430.3" text-anchor="middle" class="ser" font-size="20" textLength="63.5" lengthAdjust="spacingAndGlyphs"><tspan font-style="italic">freq</tspan>/Hz</text>
<rect x="438" y="28" width="87" height="75.3" fill="#fff" stroke="#333" stroke-width="1"/>
<g stroke-width="1.8">
<line x1="445" y1="38.0" x2="475.5" y2="38.0" stroke="#555555"/>
<line x1="445" y1="49.3" x2="475.5" y2="49.3" stroke="#0070e8"/>
<line x1="445" y1="59.1" x2="475.5" y2="59.1" stroke="#ff2a2a"/>
<line x1="445" y1="70.2" x2="475.5" y2="70.2" stroke="#c77cf0"/>
<line x1="445" y1="80.3" x2="475.5" y2="80.3" stroke="#e09400"/>
<line x1="445" y1="90.3" x2="475.5" y2="90.3" stroke="#00b060"/>
</g>
<g class="ser" font-weight="bold" font-size="10.7" fill="#000">
<text x="479.3" y="41.00">ff, 0°C</text>
<text x="479.3" y="51.90">tt, 0°C</text>
<text x="479.3" y="61.70">ss, 0°C</text>
<text x="479.3" y="73.20">ff, 100°C</text>
<text x="479.3" y="83.40">tt, 100°C</text>
<text x="479.3" y="93.20">ss, 100°C</text>
</g>
</svg>
</body></html>
